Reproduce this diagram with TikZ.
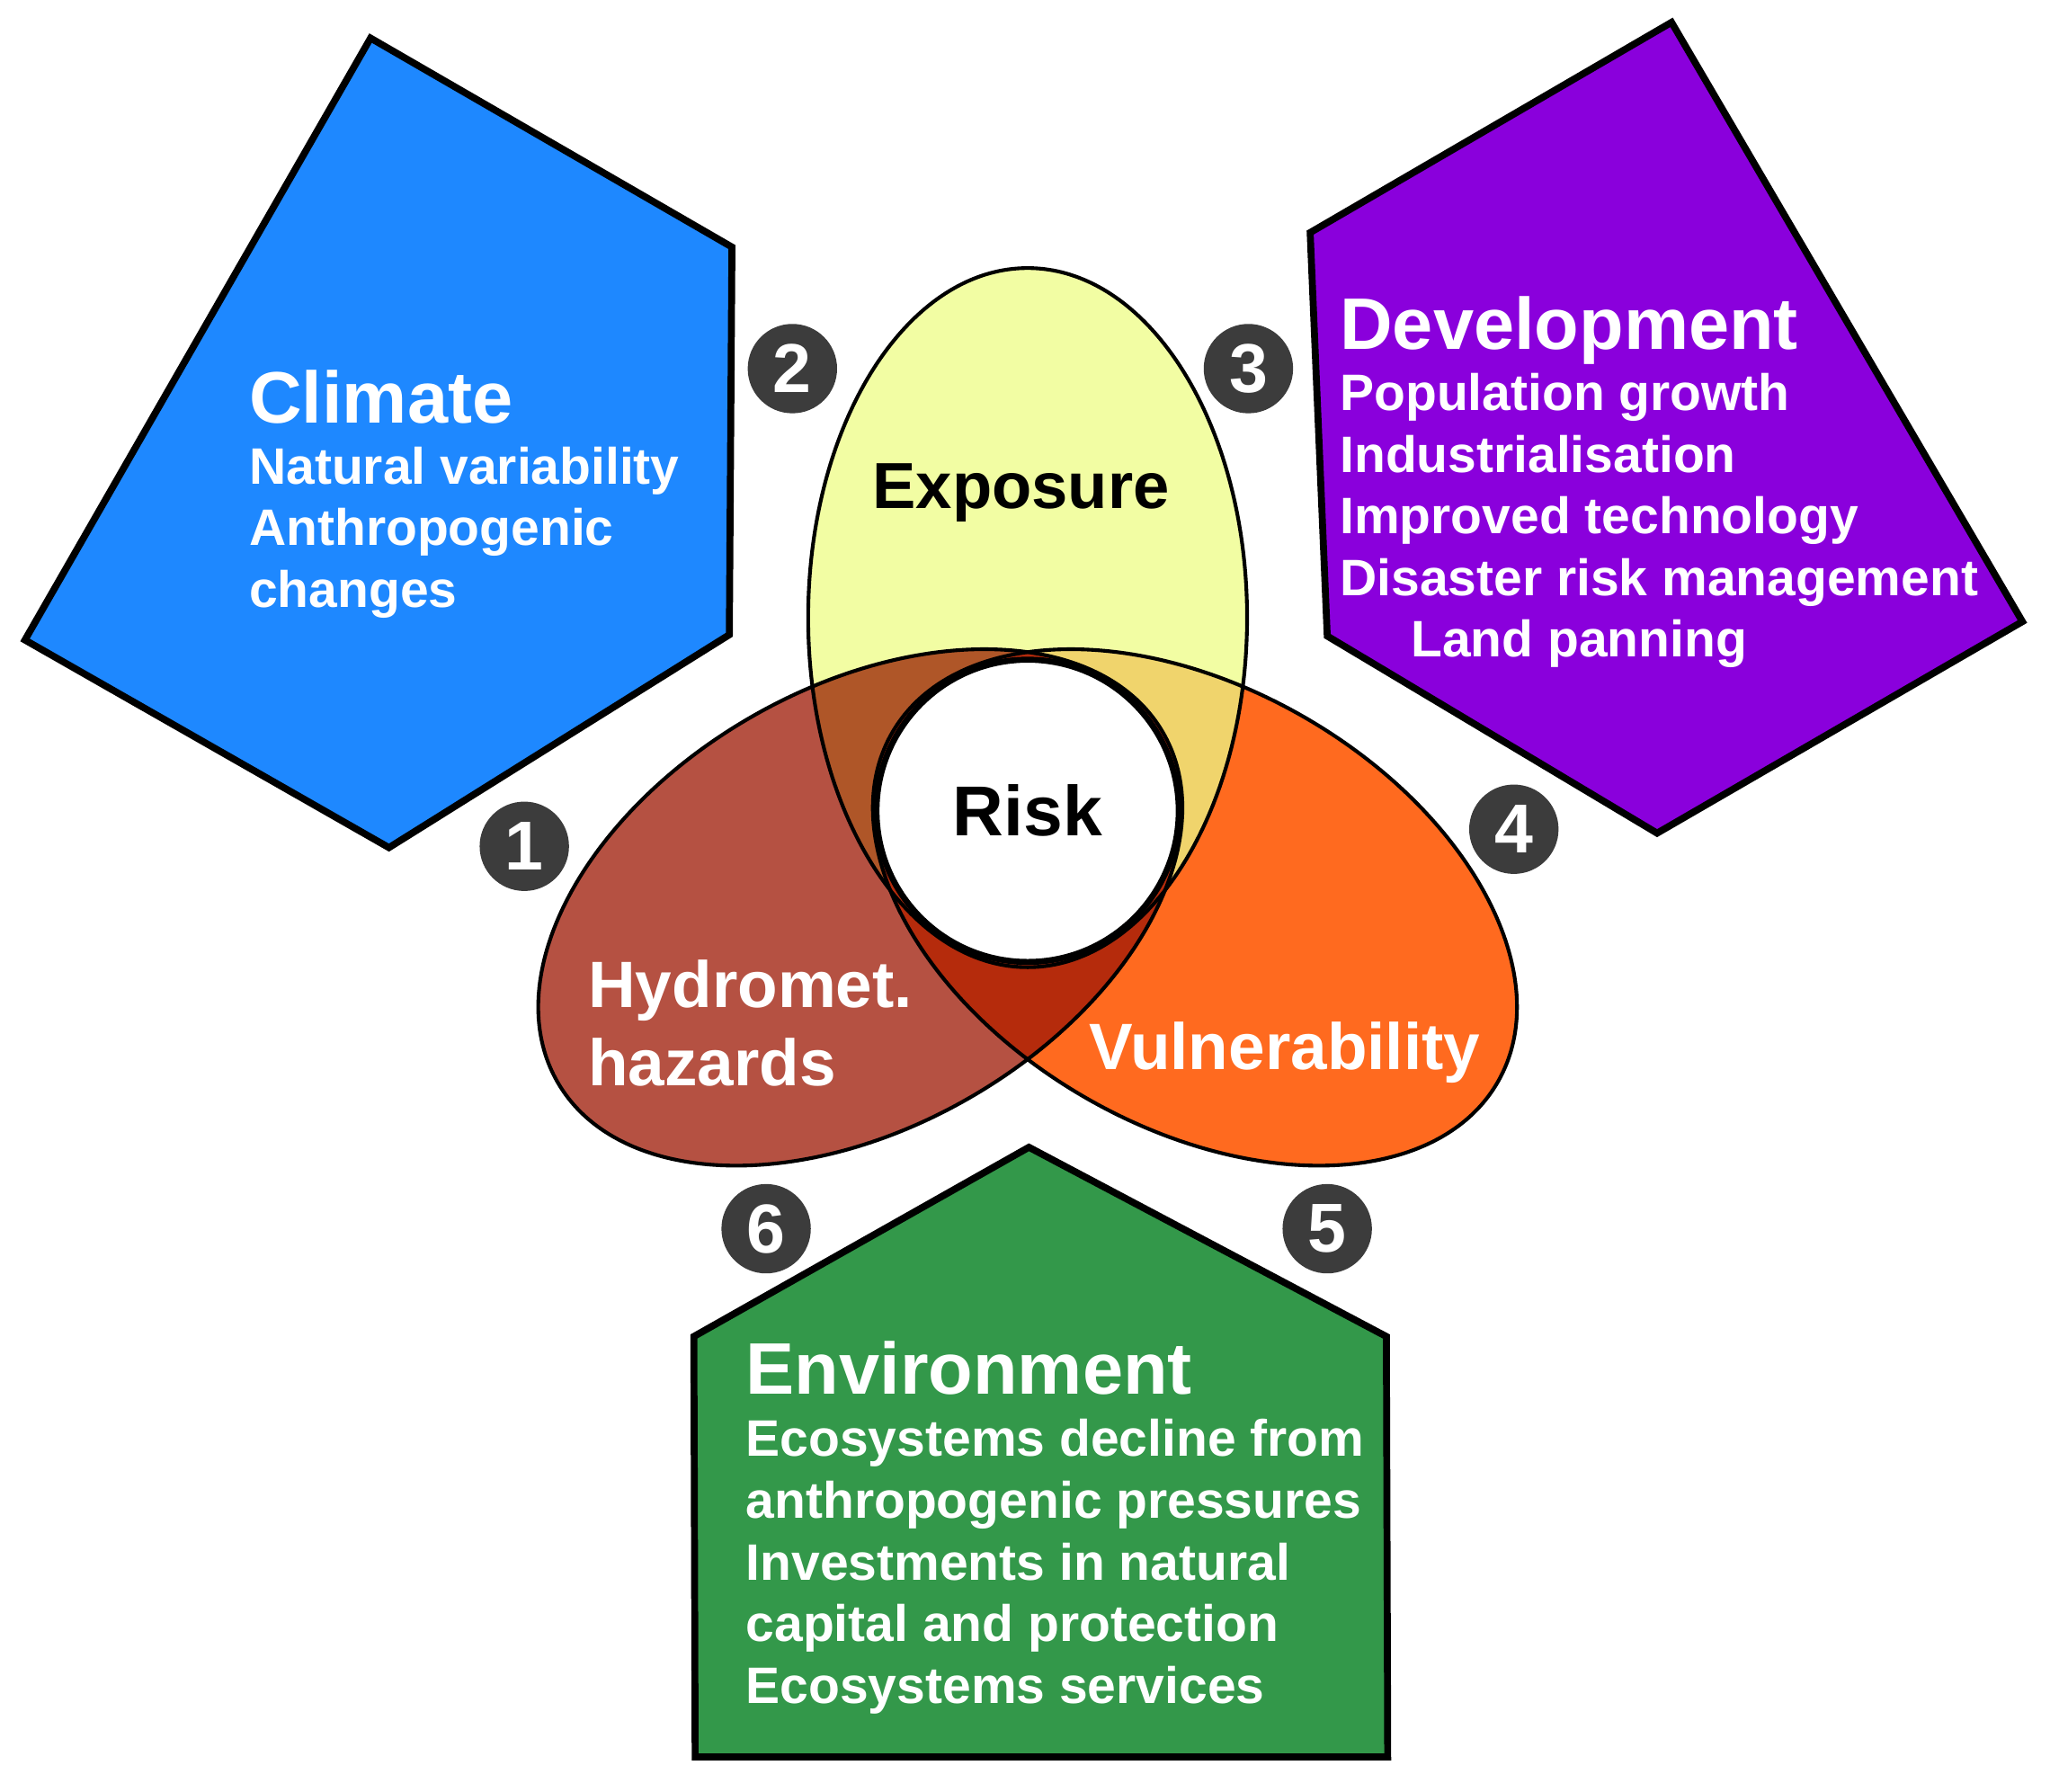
\documentclass[tikz,border=0pt]{standalone}
\usepackage{fontspec}
\setmainfont{Liberation Sans}

\definecolor{climblue}{HTML}{1E88FF}
\definecolor{devpurple}{HTML}{8A00DC}
\definecolor{envgreen}{HTML}{33984A}
\definecolor{expyellow}{HTML}{F2FDA3}
\definecolor{hydbrown}{HTML}{B55142}
\definecolor{vulorange}{HTML}{FF6A1F}
\definecolor{hxcol}{HTML}{AF5628}
\definecolor{xvcol}{HTML}{F0D46C}
\definecolor{hvcol}{HTML}{B52B0C}
\definecolor{badgegray}{HTML}{3C3C3C}

\newcommand\expopath{[shift={(ec)},rotate=90] (0,0) ellipse (26.6mm and 16.7mm)}
\newcommand\hydropath{[shift={(hc)},rotate=30] (0,0) ellipse (26.6mm and 16.7mm)}
\newcommand\vulnpath{[shift={(vc)},rotate=-30] (0,0) ellipse (26.6mm and 16.7mm)}

\begin{document}
\begin{tikzpicture}[x=1mm,y=1mm,
  penta/.style={draw=black,line width=1.5pt},
  oval/.style={draw=black,line width=0.8pt},
  badge/.style={circle,fill=badgegray,text=white,minimum size=6.8mm,inner sep=0pt,font=\fontsize{15}{18}\selectfont\bfseries},
  head/.style={anchor=base west,inner sep=0pt,text=white,font=\fontsize{15.8}{19}\selectfont\bfseries},
  items/.style={anchor=base west,inner sep=0pt,text=white,align=left,font=\fontsize{11.1}{13.35}\selectfont\bfseries},
  ovtext/.style={anchor=base west,inner sep=0pt,text=white,align=left,font=\fontsize{14.2}{16.8}\selectfont\bfseries}]
\useasboundingbox (-78.2,-74.6) rectangle (77.8,61.7);

\coordinate (O) at (0,0);
\coordinate (ec) at (90:14.7);
\coordinate (hc) at (210:14.7);
\coordinate (vc) at (330:14.7);

% the three drivers
\draw[penta,fill=climblue] (-50,58.8) -- (-22.5,42.9) -- (-22.7,13.4) -- (-48.6,-2.8) -- (-76.3,13.0) -- cycle;
\draw[penta,fill=devpurple] (49,60) -- (75.7,14.4) -- (47.9,-1.7) -- (22.8,13.3) -- (21.5,44) -- cycle;
\draw[penta,fill=envgreen] (0.1,-25.6) -- (27.3,-40) -- (27.4,-72) -- (-25.3,-72) -- (-25.4,-40) -- cycle;

% the three ovals and their overlaps
\fill[expyellow] \expopath;
\fill[hydbrown] \hydropath;
\fill[vulorange] \vulnpath;
\begin{scope}
  \clip \expopath;
  \fill[hxcol] \hydropath;
  \fill[xvcol] \vulnpath;
\end{scope}
\begin{scope}
  \clip \hydropath;
  \fill[hvcol] \vulnpath;
\end{scope}
\draw[oval] \expopath;
\draw[oval] \hydropath;
\draw[oval] \vulnpath;

\node[circle,draw=black,line width=1.3pt,fill=white,minimum size=23mm,inner sep=0pt,
  font=\fontsize{15.3}{18}\selectfont\bfseries] (risk) at (O) {Risk};

\node[anchor=base,inner sep=0pt,font=\fontsize{14.1}{17}\selectfont\bfseries] (expo) at (-0.5,23.0) {Exposure};
\node[ovtext] (hydro) at (-33.5,-20.9) {Hydromet.\\hazards};
\node[ovtext] (vuln) at (4.6,-19.7) {Vulnerability};

% numbered links
\node[badge] (n1) at (-38.3,-2.7) {1};
\node[badge] (n2) at (-17.9,33.65) {2};
\node[badge] (n3) at (16.8,33.65) {3};
\node[badge] (n4) at (37,-1.4) {4};
\node[badge] (n5) at (22.8,-31.8) {5};
\node[badge] (n6) at (-19.9,-31.8) {6};

% driver texts (base = last line)
\node[head] (climT) at (-59.3,29.5) {Climate};
\node[items] (climL) at (-59.3,15.5) {Natural variability\\Anthropogenic\\changes};
\node[head] (devT) at (23.7,35.1) {Development};
\node[items] (devL) at (23.7,11.7) {Population growth\\Industrialisation\\Improved technology\\Disaster risk management\\\hspace*{5.4mm}Land panning};
\node[head] (envT) at (-21.5,-44.4) {Environment};
\node[items] (envL) at (-21.5,-67.9) {Ecosystems decline from\\anthropogenic pressures\\Investments in natural\\capital and protection\\Ecosystems services};
\end{tikzpicture}
\end{document}
